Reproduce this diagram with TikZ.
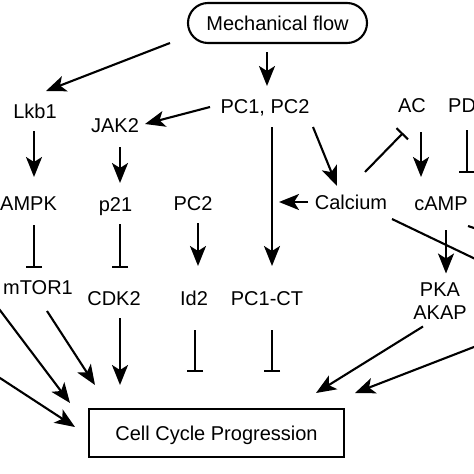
\documentclass[tikz,border=0pt]{standalone}
\usepackage{fontspec}
\setmainfont{Liberation Sans}
\usetikzlibrary{arrows.meta,calc}
\begin{document}
\begin{tikzpicture}[x=1pt,y=-1pt,
  lbl/.style={inner sep=0pt, text height=14pt, text depth=0pt, font=\fontsize{20}{23}\selectfont},
  boxed/.style={draw, line width=2.1pt},
  arr/.style={line width=2.1pt, -{Stealth[length=20pt,width=16pt,inset=5pt]}},
  inh/.style={line width=2.1pt, -{Bar[width=16pt]}},
  ln/.style={line width=2.1pt}]
\useasboundingbox (0,0) rectangle (474,474);
% nodes
\node[lbl, boxed, rounded corners=20pt, minimum width=179pt, minimum height=40pt] (mech) at (277.5,23) {Mechanical flow};
\node[lbl] (lkb1) at (35,111) {Lkb1};
\node[lbl] (jak2) at (115,125) {JAK2};
\node[lbl] (pc) at (265,106) {PC1, PC2};
\node[lbl] (ac) at (412,105) {AC};
\node[lbl, anchor=west] (pd) at (448,105) {PD};
\node[lbl] (ampk) at (28.5,203) {AMPK};
\node[lbl] (p21) at (115.5,204) {p21};
\node[lbl] (pc2) at (193,203) {PC2};
\node[lbl] (calcium) at (351,202) {Calcium};
\node[lbl] (camp) at (441,203) {cAMP};
\node[lbl] (mtor) at (38,287) {mTOR1};
\node[lbl] (cdk2) at (114,298) {CDK2};
\node[lbl] (id2) at (194,298) {Id2};
\node[lbl] (pcct) at (267,298) {PC1-CT};
\node[inner sep=0pt, align=center, font=\fontsize{20}{23}\selectfont] (pka) at (440,301.5) {PKA\\AKAP};
\node[lbl, boxed, minimum width=255pt, minimum height=48pt] (ccp) at (216.5,433) {Cell Cycle Progression};
% free ends
\coordinate (offR1) at (490,266);
\coordinate (offR2) at (477,229);
\coordinate (offR3) at (492,340);
\coordinate (offL1) at (-10,297);
\coordinate (offL2) at (-10,371.5);
% connectors
\draw[arr] ($(mech)+(-107.5,20)$) -- ($(lkb1)+(11,-20)$);
\draw[arr] ($(mech)+(-10.5,29)$) -- ($(pc)+(2,-20)$);
\draw[arr] ($(pc)+(-55,1)$) -- ($(jak2)+(30,-1)$);
\draw[arr] ($(lkb1)+(-1,20)$) -- ($(ampk)+(5.5,-26)$);
\draw[arr] ($(jak2)+(5,22)$) -- ($(p21)+(4.5,-21)$);
\draw[arr] ($(pc)+(7,21)$) -- ($(pcct)+(5,-32)$);
\draw[arr] ($(pc)+(48,21)$) -- ($(calcium)+(-14,-16)$);
\draw[inh] ($(calcium)+(14,-30)$) -- ($(ac)+(-9,28)$);
\draw[arr] ($(ac)+(9,27)$) -- ($(camp)+(-20,-26)$);
\draw[inh] ($(pd.west)+(19,25)$) -- ($(camp)+(26,-30)$);
\draw[arr] ($(calcium)+(-43,0)$) -- ($(calcium)+(-72,0)$);
\draw[ln] ($(calcium)+(41,17)$) -- (offR1);
\draw[ln] ($(camp)+(27,23)$) -- (offR2);
\draw[arr] ($(camp)+(5,27)$) -- ($(pka)+(6,-28)$);
\draw[inh] ($(ampk)+(5.5,22)$) -- ($(mtor)+(-4,-19)$);
\draw[inh] ($(p21)+(4.5,20)$) -- ($(cdk2)+(6,-30)$);
\draw[arr] ($(pc2)+(5,20)$) -- ($(id2)+(4,-32)$);
\draw[inh] ($(id2)+(1,32)$) -- ($(ccp)+(-21.5,-61)$);
\draw[inh] ($(pcct)+(5,32)$) -- ($(ccp)+(55.5,-61)$);
\draw[arr] ($(cdk2)+(6,20)$) -- ($(ccp)+(-96.5,-48)$);
\draw[arr] ($(mtor)+(9,24)$) -- ($(ccp)+(-121.5,-48)$);
\draw[arr] (offL1) -- ($(ccp)+(-146.5,-30)$);
\draw[arr] (offL2) -- ($(ccp)+(-141.5,-6)$);
\draw[arr] ($(pka)+(-17,25)$) -- ($(ccp)+(99.5,-40)$);
\draw[arr] (offR3) -- ($(ccp)+(138.5,-40)$);
\end{tikzpicture}
\end{document}
